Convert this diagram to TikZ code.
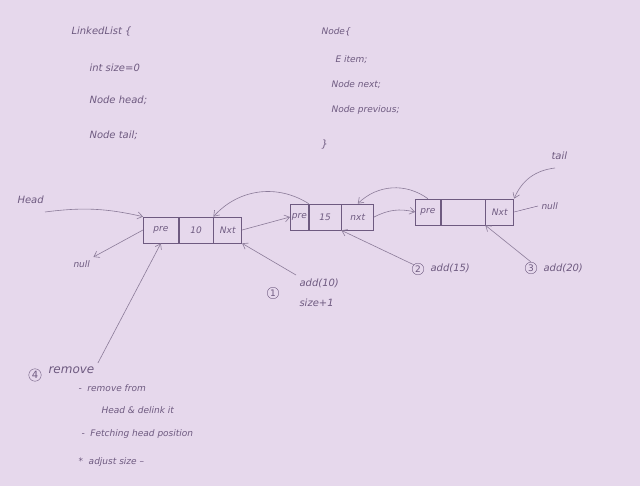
\documentclass[tikz,border=0pt]{standalone}
\usepackage{fontspec}
\setmainfont{DejaVu Sans}
\usetikzlibrary{arrows.meta}
\begin{document}
\begin{tikzpicture}[x=1pt,y=-1pt,
  txt/.style={color=ink,anchor=west,font=\itshape},
  cell/.style={draw=ink,line width=0.7pt,minimum height=26pt,inner sep=1pt,font=\small\itshape,text=ink},
  arr/.style={draw=ink!80,line width=0.6pt,-{Straight Barb[length=5pt,width=7pt]}},
  num/.style={circle,draw=ink,inner sep=1pt,font=\small,text=ink}]
\definecolor{ink}{HTML}{6E5A80}
\definecolor{bg}{HTML}{E6D8EC}
\fill[bg] (0,0) rectangle (640,486);
\useasboundingbox (0,0) rectangle (640,486);
% code text
\node[txt] (t1) at (68,32) {LinkedList \{};
\node[txt] (t2) at (86,68) {int size=0};
\node[txt] (t3) at (86,100) {Node head;};
\node[txt] (t4) at (86,135) {Node tail;};
\node[txt,font=\small\itshape] (u1) at (318,32) {Node\{};
\node[txt,font=\small\itshape] (u2) at (332,60) {E item;};
\node[txt,font=\small\itshape] (u3) at (328,85) {Node next;};
\node[txt,font=\small\itshape] (u4) at (328,110) {Node previous;};
\node[txt] (u5) at (318,145) {\}};
% nodes
\node[cell,minimum width=35pt,anchor=west] (a1) at (143,230) {pre};
\node[cell,minimum width=34pt,anchor=west] (a2) at (a1.east) {10};
\node[cell,minimum width=28pt,anchor=west] (a3) at (a2.east) {Nxt};
\node[cell,minimum width=18pt,anchor=west] (b1) at (290,217) {pre};
\node[cell,minimum width=32pt,anchor=west] (b2) at (b1.east) {15};
\node[cell,minimum width=32pt,anchor=west] (b3) at (b2.east) {nxt};
\node[cell,minimum width=25pt,anchor=west] (c1) at (415,212) {pre};
\node[cell,minimum width=44pt,anchor=west] (c2) at (c1.east) {};
\node[cell,minimum width=28pt,anchor=west] (c3) at (c2.east) {Nxt};
% labels
\node[txt] (head) at (14,200) {Head};
\coordinate (hs) at (45,212);
\draw[arr] (hs) to[bend left=10] (a1.north west);
\node[txt] (tail) at (548,156) {tail};
\coordinate (ts) at (555,168);
\draw[arr] (ts) to[bend right=30] (c3.north east);
\node[txt,font=\small\itshape] (n1) at (70,264) {null};
\draw[arr] (a1.west) -- (n1.north east);
\node[txt,font=\small\itshape] (n2) at (538,206) {null};
\draw[ink] (c3.east) -- (n2.west);
\draw[arr] (a3.east) -- (b1.west);
\draw[arr] (b3.east) to[bend left=20] (c1.west);
\draw[arr] (b1.north east) to[bend right=40] (a2.north east);
\draw[arr] (c1.north) to[bend right=40] (b3.north);
% add labels
\node[num] (k1) at (273,293) {1};
\node[txt] (ad1) at (296,283) {add(10)};
\node[txt] (sz) at (296,303) {size+1};
\draw[arr] (ad1.north west) -- (a3.south east);
\node[num] (k2) at (418,269) {2};
\node[txt] (ad2) at (427,268) {add(15)};
\draw[arr] (k2.north west) -- (b2.south east);
\node[num] (k3) at (531,268) {3};
\node[txt] (ad3) at (540,268) {add(20)};
\draw[arr] (k3.north) -- (c2.south east);
\node[num,font=\normalsize] (k4) at (35,375) {4};
\node[txt,font=\large\itshape] (rm) at (45,370) {remove};
\draw[arr] (rm.north east) -- (a1.south);
\node[txt,font=\small\itshape] (r1) at (75,388) {-\ \ remove from};
\node[txt,font=\small\itshape] (r2) at (98,410) {Head \& delink it};
\node[txt,font=\small\itshape] (r3) at (78,434) {-\ \ Fetching head position};
\node[txt,font=\small\itshape] (r4) at (75,462) {*\ \ adjust size --};
\end{tikzpicture}
\end{document}
